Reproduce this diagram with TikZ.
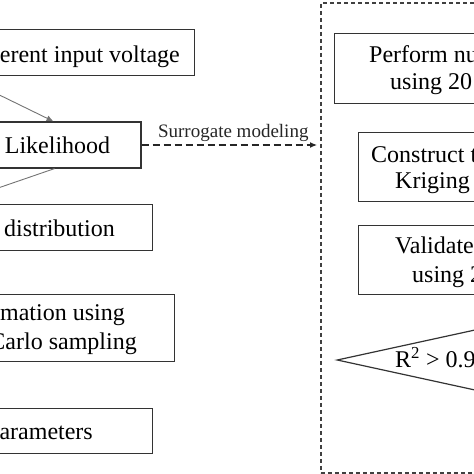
\documentclass[tikz,border=0pt]{standalone}
\usepackage{fontspec}
\setmainfont{Liberation Serif}
\usetikzlibrary{arrows.meta,shapes.geometric}

\begin{document}
\begin{tikzpicture}[x=1pt,y=-1pt]
        \tikzstyle{every node}+=[inner sep=0pt]
        \tikzstyle{box}=[draw=black!80,line width=1.2pt]
        \tikzstyle{txt}=[font=\fontsize{24}{28}\selectfont]
        \tikzstyle{lbl}=[font=\fontsize{19}{22}\selectfont]
        \tikzstyle{link}=[draw=black!55,line width=0.9pt]
        \tikzstyle{frame}=[draw=black!75,line width=1.6pt,dash pattern=on 4pt off 3pt]
        \tikzstyle{surr}=[black!85,line width=1.2pt,dash pattern=on 7pt off 4pt]
        \useasboundingbox (0,0) rectangle (474,474);
        \clip (0,0) rectangle (474,474);
        % left column
        \node[box,minimum width=300,minimum height=46,anchor=north east] (volt) at (195,29) {};
        \node[txt,anchor=base east] (volttxt) at (180,62) {erent input voltage};
        \node[box,txt,minimum width=167,minimum height=46] (lik) at (57.5,145) {Likelihood};
        \node[box,minimum width=300,minimum height=46,anchor=north east] (prior) at (153,204) {};
        \node[txt,anchor=base east] (priortxt) at (115,236) {distribution};
        \node[box,minimum width=300,minimum height=67,anchor=north east] (post) at (175,294) {};
        \node[txt,anchor=base east] (posttxta) at (125,320) {mation using};
        \node[txt,anchor=base east] (posttxtb) at (137,349) {Carlo sampling};
        \node[box,minimum width=300,minimum height=45,anchor=north east] (par) at (153,408) {};
        \node[txt,anchor=base east] (partxt) at (93,439) {arameters};
        % links into and out of the likelihood box
        \coordinate (inA) at (-60,66);
        \coordinate (outA) at (-60,208);
        \draw[link,-{Latex[length=7pt,width=6pt]}] (inA) -- ([xshift=-4pt]lik.north);
        \draw[link] ([xshift=-3pt]lik.south) -- (outA);
        % surrogate block
        \node[frame,minimum width=300,minimum height=470,anchor=north west] (sim) at (320,2) {};
        \draw[surr,-{Latex[length=7pt,width=6pt]}] (lik.east) -- ([xshift=-3pt]lik.east -| sim.west)
                node[lbl,midway,anchor=base,xshift=4pt,yshift=8pt] (surrlbl) {Surrogate modeling};
        \node[box,minimum width=300,minimum height=70,anchor=north west] (num) at (334,33) {};
        \node[txt,anchor=base west] (numtxta) at (369,62) {Perform nu};
        \node[txt,anchor=base west] (numtxtb) at (390,89) {using 20};
        \node[box,minimum width=300,minimum height=69,anchor=north west] (krig) at (358,132) {};
        \node[txt,anchor=base west] (krigtxta) at (371,162) {Construct t};
        \node[txt,anchor=base west] (krigtxtb) at (395,188) {Kriging};
        \node[box,minimum width=300,minimum height=69,anchor=north west] (valid) at (358,225) {};
        \node[txt,anchor=base west] (validtxta) at (395,253) {Validate};
        \node[txt,anchor=base west] (validtxtb) at (412,282) {using 2};
        \node[box,diamond,minimum width=360,minimum height=78.8] (chk) at (517,360) {};
        \node[txt,anchor=base west] (chktxt) at (395,367) {R\raisebox{-1pt}{\textsuperscript{2}} > 0.9};
\end{tikzpicture}
\end{document}
